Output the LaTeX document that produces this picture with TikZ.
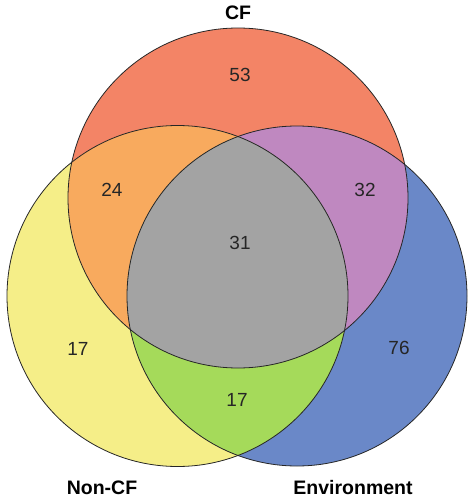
\documentclass[tikz,border=0pt]{standalone}
\usepackage{fontspec}
\setmainfont{Liberation Sans}
\definecolor{cfc}{HTML}{F38466}
\definecolor{ncc}{HTML}{F5EE88}
\definecolor{envc}{HTML}{6A88C8}
\definecolor{orc}{HTML}{F8AA5E}
\definecolor{puc}{HTML}{BF88C0}
\definecolor{grc}{HTML}{A5DA5A}
\definecolor{gyc}{HTML}{A3A3A3}
\begin{document}
\begin{tikzpicture}[x=1pt,y=-1pt,
  num/.style={font=\fontsize{19}{19}\selectfont, text=black!85},
  setlabel/.style={font=\fontsize{19.5}{19.5}\selectfont\bfseries, text=black},
  outline/.style={draw=black!85, line width=0.8pt}]
\useasboundingbox (0,0) rectangle (474,500);
\coordinate (cf) at (238,198);
\coordinate (nc) at (177.5,296);
\coordinate (env) at (297,296);
\def\rcf{170}
\def\rnc{170.5}
\def\renv{170}
% base fills
\fill[cfc] (cf) circle (\rcf);
\fill[ncc] (nc) circle (\rnc);
\fill[envc] (env) circle (\renv);
% pairwise intersections
\begin{scope}
  \clip (cf) circle (\rcf);
  \fill[orc] (nc) circle (\rnc);
\end{scope}
\begin{scope}
  \clip (cf) circle (\rcf);
  \fill[puc] (env) circle (\renv);
\end{scope}
\begin{scope}
  \clip (nc) circle (\rnc);
  \fill[grc] (env) circle (\renv);
\end{scope}
\begin{scope}
  \clip (cf) circle (\rcf);
  \clip (nc) circle (\rnc);
  \fill[gyc] (env) circle (\renv);
\end{scope}
% outlines
\draw[outline] (cf) circle (\rcf);
\draw[outline] (nc) circle (\rnc);
\draw[outline] (env) circle (\renv);
% labels
\node[setlabel] (lcf) at (238,13) {CF};
\node[setlabel] (lnc) at (102,488) {Non-CF};
\node[setlabel] (lenv) at (353,488) {Environment};
\node[num] (n53) at (240,75) {53};
\node[num] (n24) at (112,190) {24};
\node[num] (n32) at (365,190) {32};
\node[num] (n31) at (240,243) {31};
\node[num] (n17a) at (78,349) {17};
\node[num] (n76) at (399,348) {76};
\node[num] (n17b) at (237,400) {17};
\end{tikzpicture}
\end{document}
